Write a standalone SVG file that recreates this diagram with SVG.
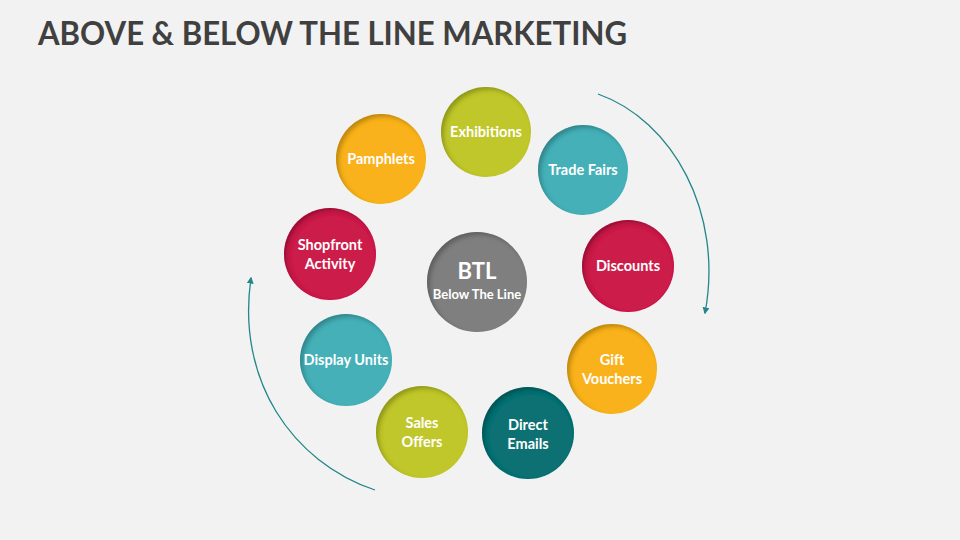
<svg xmlns="http://www.w3.org/2000/svg" width="960" height="540" viewBox="0 0 960 540">
<defs>
<style>
.title{font-family:Lato,"Open Sans","Liberation Sans",sans-serif;font-weight:700;font-size:32px;fill:#404040}
.lbl{font-family:Lato,"Open Sans","Liberation Sans",sans-serif;font-weight:700;font-size:14.5px;fill:#ffffff;text-anchor:middle}
.btl{font-family:Lato,"Open Sans","Liberation Sans",sans-serif;font-weight:700;font-size:22px;fill:#ffffff;text-anchor:middle}
.sub{font-family:Lato,"Open Sans","Liberation Sans",sans-serif;font-weight:700;font-size:13px;fill:#ffffff;text-anchor:middle}
.arc{fill:none;stroke:#23868c;stroke-width:1.3}
.node{filter:url(#inner)}
</style>
<filter id="inner" x="-10%" y="-10%" width="120%" height="120%">
<feGaussianBlur in="SourceAlpha" stdDeviation="2" result="b"/>
<feOffset in="b" dx="3" dy="3" result="o"/>
<feComposite in="SourceAlpha" in2="o" operator="out" result="edge"/>
<feFlood flood-color="#000000" flood-opacity="0.45"/>
<feComposite in2="edge" operator="in" result="sh"/>
<feMerge><feMergeNode in="SourceGraphic"/><feMergeNode in="sh"/></feMerge>
</filter>
<marker id="ah" viewBox="0 0 10 10" refX="8" refY="5" markerWidth="7" markerHeight="7" orient="auto" markerUnits="userSpaceOnUse">
<path d="M0,0 L10,5 L0,10 Z" fill="#23868c"/>
</marker>
</defs>
<rect width="960" height="540" fill="#f2f2f2"/>
<text class="title" x="38" y="45" textLength="589" lengthAdjust="spacingAndGlyphs">ABOVE &amp; BELOW THE LINE MARKETING</text>

<g id="connectors">
<path class="arc" d="M598,94 C672,120 724,212 705,313" marker-end="url(#ah)"/>
<path class="arc" d="M375,490 C292,462 236,380 251,278" marker-end="url(#ah)"/>
</g>

<g id="btl"><circle class="node" cx="477" cy="282" r="50" fill="#7f7f7f"/><text class="btl" x="477" y="279">BTL</text><text class="sub" x="477" y="299">Below The Line</text></g>
<g id="exhibitions"><circle class="node" cx="486" cy="132" r="45" fill="#bfc72a"/><text class="lbl" x="486" y="137">Exhibitions</text></g>
<g id="trade-fairs"><circle class="node" cx="583" cy="170" r="45" fill="#45b0b8"/><text class="lbl" x="583" y="175">Trade Fairs</text></g>
<g id="discounts"><circle class="node" cx="628" cy="266" r="46" fill="#cc1a4a"/><text class="lbl" x="628" y="271">Discounts</text></g>
<g id="gift-vouchers"><circle class="node" cx="612" cy="369" r="45" fill="#f9b21c"/><text class="lbl" x="612" y="365">Gift</text><text class="lbl" x="612" y="384">Vouchers</text></g>
<g id="direct-emails"><circle class="node" cx="528" cy="433" r="46" fill="#0e7173"/><text class="lbl" x="528" y="430">Direct</text><text class="lbl" x="528" y="449">Emails</text></g>
<g id="sales-offers"><circle class="node" cx="422" cy="432" r="46" fill="#bfc72a"/><text class="lbl" x="422" y="428">Sales</text><text class="lbl" x="422" y="447">Offers</text></g>
<g id="display-units"><circle class="node" cx="346" cy="360" r="46" fill="#45b0b8"/><text class="lbl" x="346" y="365">Display Units</text></g>
<g id="shopfront-activity"><circle class="node" cx="330" cy="254" r="46" fill="#cc1a4a"/><text class="lbl" x="330" y="250">Shopfront</text><text class="lbl" x="330" y="269">Activity</text></g>
<g id="pamphlets"><circle class="node" cx="381" cy="159" r="45" fill="#f9b21c"/><text class="lbl" x="381" y="164">Pamphlets</text></g>
</svg>
